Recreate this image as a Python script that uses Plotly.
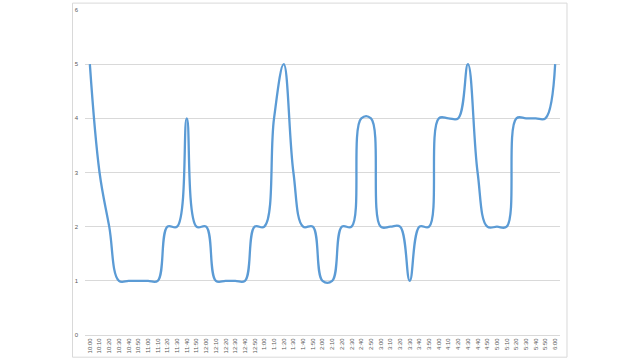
import plotly.graph_objects as go

times = ["10:00", "10:10", "10:20", "10:30", "10:40", "10:50",
         "11:00", "11:10", "11:20", "11:30", "11:40", "11:50",
         "12:00", "12:10", "12:20", "12:30", "12:40", "12:50",
         "1:00", "1:10", "1:20", "1:30", "1:40", "1:50",
         "2:00", "2:10", "2:20", "2:30", "2:40", "2:50",
         "3:00", "3:10", "3:20", "3:30", "3:40", "3:50",
         "4:00", "4:10", "4:20", "4:30", "4:40", "4:50",
         "5:00", "5:10", "5:20", "5:30", "5:40", "5:50",
         "6:00"]
values = [5, 3, 2, 1, 1, 1,
          1, 1, 2, 2, 4, 2,
          2, 1, 1, 1, 1, 2,
          2, 4, 5, 3, 2, 2,
          1, 1, 2, 2, 4, 4,
          2, 2, 2, 1, 2, 2,
          4, 4, 4, 5, 3, 2,
          2, 2, 4, 4, 4, 4,
          5]
y_ticks = [0, 1, 2, 3, 4, 5, 6]

fig = go.Figure()
fig.add_trace(go.Scatter(
    x=list(range(len(times))), y=values, mode="lines",
    line=dict(color="#5B9BD5", width=2.3, shape="spline", smoothing=1.1),
    hoverinfo="skip", showlegend=False,
))

W, H = 640, 361
ml, mr, mt, mb = 85, 79.5, 7.5, 24
pw = W - ml - mr
ph = H - mt - mb

def px_x(px):
    return (px - ml) / pw

def px_y(py):
    return (H - mb - py) / ph

fig.add_shape(type="rect", xref="paper", yref="paper",
              x0=px_x(72.5), x1=px_x(567.5), y0=px_y(359.5), y1=px_y(0.5),
              line=dict(color="#d9d9d9", width=1), layer="below")

fig.update_layout(
    width=W, height=H,
    margin=dict(l=ml, r=mr, t=mt, b=mb, pad=0),
    paper_bgcolor="white", plot_bgcolor="white",
    font=dict(family="Liberation Sans, Arial, sans-serif", color="#595959", size=6),
    xaxis=dict(
        range=[-0.5, len(times) - 0.5],
        tickmode="array", tickvals=list(range(len(times))), ticktext=times,
        tickangle=-90, tickfont=dict(size=6, color="#595959"),
        showgrid=False, zeroline=False,
        showline=True, linecolor="#d9d9d9", linewidth=1,
        ticks="", ticklen=0,
    ),
    yaxis=dict(
        range=[0, 6], tickmode="array", tickvals=y_ticks,
        tickfont=dict(size=6, color="#595959"),
        showgrid=True, gridcolor="#d9d9d9", gridwidth=1,
        zeroline=False, showline=False, ticks="", ticklabelstandoff=6,
    ),
)

fig.write_html("out.html")
